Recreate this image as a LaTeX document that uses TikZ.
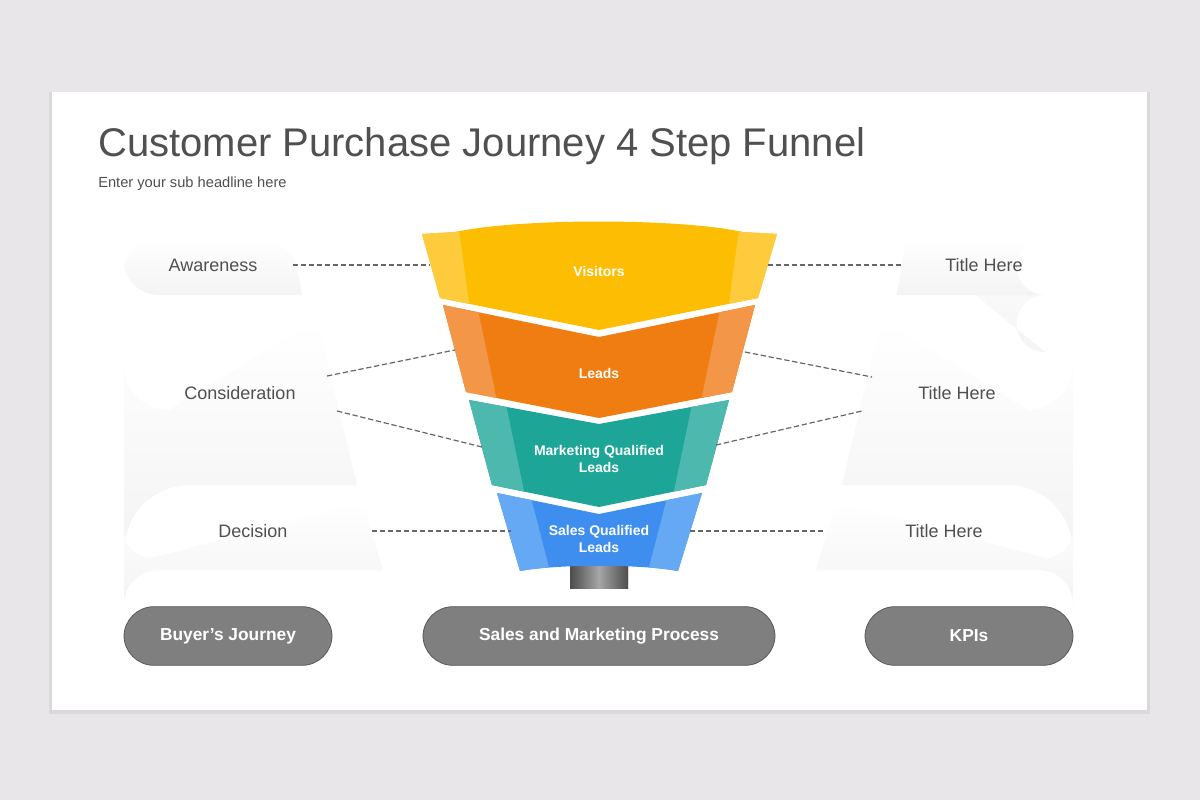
\documentclass[tikz,border=0pt]{standalone}
\usepackage{fontspec}
\setmainfont{Liberation Sans}
\usetikzlibrary{shadows}
\definecolor{bg}{HTML}{E8E6E8}
\definecolor{txt}{HTML}{505050}
\definecolor{yel}{HTML}{FCBD02}\definecolor{yelL}{HTML}{FDCB3C}
\definecolor{ora}{HTML}{F07D12}\definecolor{oraL}{HTML}{F39647}
\definecolor{tea}{HTML}{1DA597}\definecolor{teaL}{HTML}{4CB8AE}
\definecolor{blu}{HTML}{3D8EEF}\definecolor{bluL}{HTML}{65A8F4}
\definecolor{pill}{HTML}{7F7F7F}
\tikzset{
 soft/.style={top color=white,bottom color=gray!9,draw=none},
 lab/.style={font=\fontsize{13.5}{15}\selectfont,text=txt},
 ftxt/.style={font=\bfseries\fontsize{10.5}{13}\selectfont,text=white,align=center},
 pillbox/.style={fill=pill,draw=gray!70!black,line width=0.6pt,rounded corners=22.5pt,font=\bfseries\fontsize{13}{15}\selectfont,text=white,minimum height=44pt,inner sep=0pt},
 dsh/.style={draw=gray!80!black,dashed,line width=0.9pt,dash pattern=on 4pt off 2pt}
}
\begin{document}
\begin{tikzpicture}[x=0.75pt,y=-0.75pt]
\fill[bg] (0,0) rectangle (1200,800);
\useasboundingbox (0,0) rectangle (1200,800);
\fill[black,opacity=0.06] (49,92) rectangle (1150,714);
\fill[white] (52,92) rectangle (1147,710);
\node[anchor=base west,font=\fontsize{30}{32}\selectfont,text=txt,inner sep=0] (title) at (98,156) {Customer Purchase Journey 4 Step Funnel};
\node[anchor=base west,font=\fontsize{11}{13}\selectfont,text=txt,inner sep=0] (sub) at (98,187) {Enter your sub headline here};
% left shapes
\shade[soft,rounded corners=26pt] (124,295) -- (124,238) -- (292,238) [sharp corners] -- (302,295) [rounded corners=26pt] -- cycle;
\fill[white] (296,236) rectangle (300,240);
\shade[soft] (317,320) -- (357,485) -- (190,485) arc(270:180:66) -- (124,365) arc(180:90:45) -- cycle;
\shade[soft] (363,502) -- (383,570) -- (158,570) arc(270:180:34) -- (124,530) arc(180:90:28) -- cycle;
% right shapes
\shade[soft] (906,238) -- (897,295) -- (1045,295) arc(90:-90:-28.5) -- cycle;
\shade[soft] (907,238) -- (1045,238) arc(90:-90:-28.5) -- (897,295) -- cycle;
\shade[soft] (881,320) -- (842,485) -- (1007,485) arc(-90:0:66) -- (1073,365) arc(0:90:45) -- cycle;
\shade[soft] (836,502) -- (816,570) -- (1039,570) arc(-90:0:34) -- (1073,530) arc(0:90:28) -- cycle;
\node[lab] (aw) at (213,265) {Awareness};
\node[lab] (co) at (240,393) {Consideration};
\node[lab] (de) at (253,531) {Decision};
\node[lab] (t1) at (984,265) {Title Here};
\node[lab] (t2) at (957,393) {Title Here};
\node[lab] (t3) at (944,531) {Title Here};
% funnel bands
\begin{scope}
\clip (422,234) -- (455,232) .. controls (520,218) and (678,218) .. (743,232) -- (777,234) -- (758,298) -- (599,330) -- (440,298) -- cycle;
\fill[yel] (400,200) rectangle (800,340);
\fill[yelL] (400,200) -- (455,200) -- (474,340) -- (400,340) -- cycle;
\fill[yelL] (800,200) -- (743,200) -- (724,340) -- (800,340) -- cycle;
\end{scope}
\begin{scope}
\clip (443,305) -- (599,337) -- (755,305) -- (732,392) -- (599,418) -- (466,392) -- cycle;
\fill[ora] (400,300) rectangle (800,420);
\fill[oraL] (400,300) -- (476,300) -- (501,420) -- (400,420) -- cycle;
\fill[oraL] (800,300) -- (722,300) -- (697,420) -- (800,420) -- cycle;
\end{scope}
\begin{scope}
\clip (469,400) -- (599,424) -- (729,400) -- (706,485) -- (599,507) -- (492,485) -- cycle;
\fill[tea] (400,395) rectangle (800,510);
\fill[teaL] (400,395) -- (504,395) -- (528,510) -- (400,510) -- cycle;
\fill[teaL] (800,395) -- (694,395) -- (670,510) -- (800,510) -- cycle;
\end{scope}
\fill[black!75,top color=black!80,bottom color=black!55] (570,562) rectangle (628,588);
\shade[left color=black!70,right color=black!70,middle color=black!35] (570,562) rectangle (628,588);
\begin{scope}
\clip (497,493) -- (599,514) -- (702,493) -- (678,571) .. controls (640,564) and (558,564) .. (520,571) -- cycle;
\fill[blu] (400,490) rectangle (800,575);
\fill[bluL] (400,490) -- (529,490) -- (551,575) -- (400,575) -- cycle;
\fill[bluL] (800,490) -- (669,490) -- (647,575) -- (800,575) -- cycle;
\end{scope}
\node[ftxt] (f1) at (599,271) {Visitors};
\node[ftxt] (f2) at (599,373) {Leads};
\node[ftxt] (f3) at (599,459) {Marketing Qualified\\Leads};
\node[ftxt] (f4) at (599,539) {Sales Qualified\\Leads};
% connector endpoints
\coordinate (a1) at (293,265); \coordinate (a2) at (430,265);
\coordinate (c1) at (327,376); \coordinate (c2) at (455,350);
\coordinate (c3) at (337,411); \coordinate (c4) at (482,447);
\coordinate (d1) at (372,531); \coordinate (d2) at (511,531);
\coordinate (r1) at (768,265); \coordinate (r2) at (903,265);
\coordinate (r3) at (745,352); \coordinate (r4) at (872,377);
\coordinate (r5) at (716,445); \coordinate (r6) at (862,411);
\coordinate (r7) at (690,531); \coordinate (r8) at (823,531);
\draw[dsh] (a1) -- (a2); \draw[dsh] (c1) -- (c2); \draw[dsh] (c3) -- (c4); \draw[dsh] (d1) -- (d2);
\draw[dsh] (r1) -- (r2); \draw[dsh] (r3) -- (r4); \draw[dsh] (r5) -- (r6); \draw[dsh] (r7) -- (r8);
% pills
\node[pillbox,minimum width=156pt] (p1) at (228,636) {Buyer's Journey};
\node[pillbox,minimum width=264pt] (p2) at (599,636) {Sales and Marketing Process};
\node[pillbox,minimum width=156pt] (p3) at (969,636) {KPIs};
\end{tikzpicture}
\end{document}
